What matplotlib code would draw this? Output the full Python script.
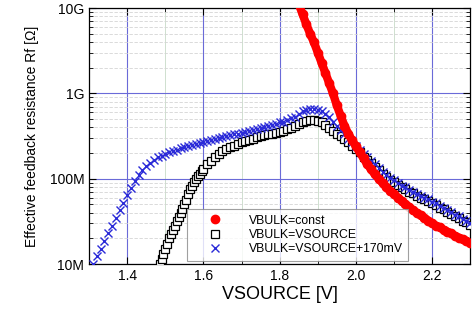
import numpy as np
import matplotlib
matplotlib.use("Agg")
import matplotlib.pyplot as plt
from matplotlib.ticker import FixedLocator, LogLocator, NullFormatter

plt.rcParams['font.family'] = ['Liberation Sans', 'DejaVu Sans']

# VBULK=VSOURCE+170mV (blue crosses), log10(Rf)
v_blue = [round(1.31 + 0.01 * i, 2) for i in range(100)]
log_blue = [7.00, 7.09, 7.18, 7.27, 7.36, 7.45, 7.54, 7.63, 7.72, 7.81,
            7.89, 7.97, 8.04, 8.10, 8.15, 8.19, 8.22, 8.25, 8.27, 8.29,
            8.31, 8.33, 8.34, 8.36, 8.37, 8.38, 8.40, 8.41, 8.42, 8.43,
            8.44, 8.46, 8.47, 8.48, 8.49, 8.50, 8.51, 8.52, 8.53, 8.54,
            8.55, 8.56, 8.57, 8.58, 8.60, 8.61, 8.62, 8.63, 8.64, 8.66,
            8.67, 8.69, 8.71, 8.73, 8.76, 8.79, 8.81, 8.82, 8.82, 8.81,
            8.79, 8.76, 8.72, 8.67, 8.62, 8.57, 8.52, 8.47, 8.43, 8.39,
            8.34, 8.29, 8.25, 8.21, 8.17, 8.13, 8.08, 8.04, 8.01, 7.98,
            7.95, 7.92, 7.90, 7.87, 7.85, 7.82, 7.80, 7.78, 7.76, 7.73,
            7.71, 7.68, 7.66, 7.63, 7.61, 7.58, 7.56, 7.53, 7.51, 7.48]

# VBULK=VSOURCE (open squares)
v_sq = [1.485, 1.490, 1.495, 1.500, 1.505, 1.510, 1.515, 1.520, 1.525, 1.530,
        1.535, 1.540, 1.545, 1.550, 1.555, 1.560, 1.565, 1.570, 1.575, 1.580,
        1.585, 1.590, 1.595] + [round(1.60 + 0.01 * i, 2) for i in range(71)]
log_sq = [7.00, 7.06, 7.12, 7.18, 7.24, 7.30, 7.35, 7.40, 7.45, 7.50,
          7.55, 7.60, 7.65, 7.70, 7.75, 7.82, 7.88, 7.92, 7.96, 8.00,
          8.03, 8.06, 8.09,
          8.12, 8.17, 8.21, 8.25, 8.29, 8.32, 8.35, 8.37, 8.39, 8.41,
          8.43, 8.44, 8.46, 8.47, 8.49, 8.50, 8.51, 8.52, 8.53, 8.54,
          8.545, 8.56, 8.58, 8.60, 8.62, 8.64, 8.66, 8.68, 8.69, 8.69,
          8.68, 8.66, 8.63, 8.60, 8.56, 8.53, 8.50, 8.47, 8.43, 8.39,
          8.35, 8.31, 8.26, 8.22, 8.18, 8.14, 8.10, 8.06, 8.02, 7.99,
          7.96, 7.93, 7.90, 7.88, 7.85, 7.83, 7.80, 7.78, 7.76, 7.74,
          7.71, 7.69, 7.66, 7.64, 7.61, 7.59, 7.56, 7.54, 7.51, 7.49,
          7.46]

# VBULK=const (red dots)
v_red = [round(1.85 + 0.01 * i, 2) for i in range(46)]
log_red = [10.05, 9.93, 9.81, 9.70, 9.60, 9.48, 9.36, 9.24, 9.12, 9.00,
           8.86, 8.74, 8.62, 8.53, 8.45, 8.38, 8.31, 8.24, 8.17, 8.11,
           8.05, 8.00, 7.95, 7.90, 7.86, 7.82, 7.78, 7.74, 7.70, 7.67,
           7.63, 7.60, 7.57, 7.54, 7.51, 7.48, 7.45, 7.43, 7.40, 7.38,
           7.36, 7.33, 7.31, 7.29, 7.27, 7.25]

fig = plt.figure(figsize=(4.74, 3.28), dpi=100)
ax = fig.add_axes([0.188, 0.195, 0.804, 0.780])

rf_blue = 10 ** np.array(log_blue)
rf_sq = 10 ** np.array(log_sq)
rf_red = 10 ** np.array(log_red)

ax.plot(v_sq, rf_sq, ls='none', marker='s', ms=5.3, mfc='white', mec='black',
        mew=0.9, zorder=3, label='VBULK=VSOURCE')
ax.plot(v_blue, rf_blue, ls='none', marker='x', ms=5.5, mec='#2a2ad8',
        mew=1.0, zorder=4, label='VBULK=VSOURCE+170mV')
ax.plot(v_red, rf_red, color='#ff0000', lw=6, solid_capstyle='round', zorder=5)
ax.plot(v_red, rf_red, ls='none', marker='o', ms=6, color='#ff0000', zorder=5,
        label='VBULK=const')

ax.set_yscale('log')
ax.set_xlim(1.3, 2.3)
ax.set_ylim(1e7, 1e10)

ax.xaxis.set_major_locator(FixedLocator([1.4, 1.6, 1.8, 2.0, 2.2]))
ax.set_xticklabels(['1.4', '1.6', '1.8', '2.0', '2.2'])
ax.xaxis.set_minor_locator(FixedLocator([1.3, 1.5, 1.7, 1.9, 2.1, 2.3]))
ax.yaxis.set_major_locator(FixedLocator([1e7, 1e8, 1e9, 1e10]))
ax.set_yticklabels(['10M', '100M', '1G', '10G'])
ax.yaxis.set_minor_locator(LogLocator(base=10, subs=np.arange(2, 10)))
ax.yaxis.set_minor_formatter(NullFormatter())

ax.grid(which='major', color='#6a6ad8', lw=0.8)
ax.grid(which='minor', axis='x', color='#cfe0cf', lw=0.7)
ax.grid(which='minor', axis='y', color='#d4d4d4', lw=0.6, ls=(0, (4, 2)))
ax.set_axisbelow(True)

ax.tick_params(which='both', direction='in', top=True, right=True, labelsize=10)
ax.tick_params(which='major', length=5, width=0.8)
ax.tick_params(which='minor', length=3, width=0.6)
for s in ax.spines.values():
    s.set_linewidth(0.9)

ax.set_xlabel('VSOURCE [V]', fontsize=13, labelpad=2)
ax.set_ylabel('Effective feedback resistance Rf [\u03a9]', fontsize=10, labelpad=8)

h, l = ax.get_legend_handles_labels()
order = [2, 0, 1]
leg = ax.legend([h[i] for i in order], [l[i] for i in order], loc='lower left',
                bbox_to_anchor=(0.257, 0.012), fontsize=8.8, frameon=True,
                fancybox=False, edgecolor='#888888', handletextpad=1.0,
                borderpad=0.45, labelspacing=0.2, handlelength=3.6,
                borderaxespad=0.0)
leg.get_frame().set_linewidth(0.8)

fig.savefig('out.png', dpi=100)
